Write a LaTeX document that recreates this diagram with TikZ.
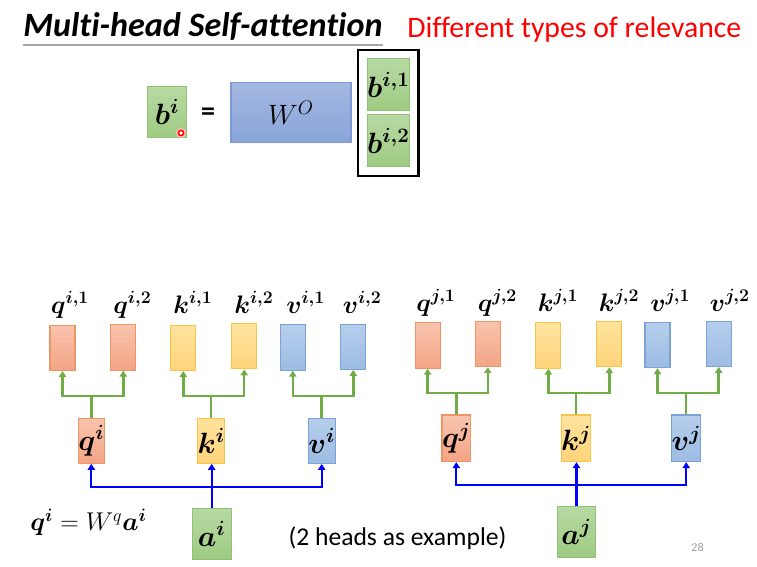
\RequirePackage{fix-cm}
\documentclass[tikz,border=0pt]{standalone}
\usepackage{bm}
\usepackage{fontspec}
\newfontfamily\carl[Ligatures={NoCommon}]{Carlito}
\usetikzlibrary{arrows.meta,fit}
\definecolor{qtop}{HTML}{F8C4AD}
\definecolor{qbot}{HTML}{F4A485}
\definecolor{qbrd}{HTML}{EE9566}
\definecolor{ktop}{HTML}{FFE39E}
\definecolor{kbot}{HTML}{FFD47A}
\definecolor{kbrd}{HTML}{F9C546}
\definecolor{vtop}{HTML}{B6CEEC}
\definecolor{vbot}{HTML}{9CBCE3}
\definecolor{vbrd}{HTML}{7CA3D5}
\definecolor{gtop}{HTML}{B7D9A3}
\definecolor{gbot}{HTML}{9ECB82}
\definecolor{gbrd}{HTML}{8FC276}
\definecolor{wtop}{HTML}{A3B8E2}
\definecolor{wbot}{HTML}{8AA5DA}
\definecolor{wbrd}{HTML}{7E9AD4}
\definecolor{garrow}{HTML}{70AD47}
\definecolor{barrow}{HTML}{0000FF}
\definecolor{pgnum}{HTML}{A0A0A0}
\definecolor{ulgray}{HTML}{A6A6A6}
\definecolor{titred}{HTML}{FF0000}
\tikzset{
  box/.style={draw, line width=0.8pt, inner sep=0pt, minimum width=18.75pt, minimum height=34pt},
  qbox/.style={box, draw=qbrd, top color=qtop, bottom color=qbot},
  kbox/.style={box, draw=kbrd, top color=ktop, bottom color=kbot},
  vbox/.style={box, draw=vbrd, top color=vtop, bottom color=vbot},
  gbox/.style={box, draw=gbrd, top color=gtop, bottom color=gbot},
  abox/.style={gbox, minimum width=29pt, minimum height=38.5pt},
  bbox/.style={gbox, minimum width=30pt, minimum height=38.8pt},
  wbox/.style={box, draw=wbrd, top color=wtop, bottom color=wbot, minimum width=90pt, minimum height=44.7pt},
  framebox/.style={draw=black, line width=1.6pt, inner sep=6.4pt},
  inlab/.style={font=\fontsize{22}{26}\selectfont},
  lab/.style={anchor=base west, inner sep=0pt, font=\fontsize{19}{22}\selectfont},
  garr/.style={draw=garrow, line width=1.9pt, -{Triangle[width=5.5pt,length=4.5pt]}},
  barr/.style={draw=barrow, line width=1.6pt, -{Triangle[width=5.5pt,length=4.5pt]}},
}
\begin{document}
\begin{tikzpicture}[x=0.75pt,y=-0.75pt]
\useasboundingbox (0,0) rectangle (757,567);
% titles
\node[anchor=base west, inner sep=0pt, font=\carl\bfseries\itshape\fontsize{25.6}{30}\selectfont] (title) at (23,37) {Multi-head Self-attention};
\draw[ulgray, line width=1.5pt] (23,45.5) -- (383.3,45.5);
\node[anchor=base west, inner sep=0pt, text=titred, font=\carl\fontsize{22.3}{26}\selectfont] (sub) at (407,37.3) {Different types of relevance};
% top equation
\node[bbox, minimum width=29.5pt, minimum height=38.2pt, inlab] (bi) at (167,112.2) {$\bm{b^{i}}$};
\node[font=\carl\bfseries\fontsize{21}{24}\selectfont] (eq) at (208,114) {=};
\node[wbox, font=\fontsize{21}{24}\selectfont] (wo) at (291,112.5) {$W^{O}$};
\node[bbox, inlab] (b1) at (388.3,84.8) {$\bm{b^{i,1}}$};
\node[bbox, inlab] (b2) at (388.3,140.8) {$\bm{b^{i,2}}$};
\node[framebox, fit=(b1)(b2)] (frame) {};
% pointer
\fill[red!25] (181,133) circle (5);
\draw[red, line width=1.2pt, fill=white] (181,133) circle (2.6);
% left group: top row
\node[qbox] (qi1) at (62.5,347.8) {};
\node[qbox] (qi2) at (123.3,347.5) {};
\node[kbox] (ki1) at (183.3,347.8) {};
\node[kbox] (ki2) at (244.2,346.2) {};
\node[vbox] (vi1) at (292.8,347.5) {};
\node[vbox] (vi2) at (353.3,346.7) {};
\node[lab] (lqi1) at (50.7,313) {$\bm{q^{i,1}}$};
\node[lab] (lqi2) at (113,313) {$\bm{q^{i,2}}$};
\node[lab] (lki1) at (173,313) {$\bm{k^{i,1}}$};
\node[lab] (lki2) at (234,313) {$\bm{k^{i,2}}$};
\node[lab] (lvi1) at (286,313) {$\bm{v^{i,1}}$};
\node[lab] (lvi2) at (342.5,313) {$\bm{v^{i,2}}$};
% left group: middle
\node[qbox, inlab] (qi) at (91.3,440.7) {$\bm{q^{i}}$};
\node[kbox, inlab] (ki) at (211.2,440.7) {$\bm{k^{i}}$};
\node[vbox, inlab] (vi) at (321.7,440.7) {$\bm{v^{i}}$};
\node[abox, inlab] (ai) at (211.7,534.2) {$\bm{a^{i}}$};
% right group: top row
\node[qbox] (qj1) at (427.7,345.5) {};
\node[qbox] (qj2) at (487.8,344) {};
\node[kbox] (kj1) at (548.3,345.5) {};
\node[kbox] (kj2) at (609.3,344) {};
\node[vbox] (vj1) at (657.5,345) {};
\node[vbox] (vj2) at (718.7,343.7) {};
\node[lab] (lqj1) at (416,311) {$\bm{q^{j,1}}$};
\node[lab] (lqj2) at (477.5,311) {$\bm{q^{j,2}}$};
\node[lab] (lkj1) at (537.5,311) {$\bm{k^{j,1}}$};
\node[lab] (lkj2) at (598.5,311) {$\bm{k^{j,2}}$};
\node[lab] (lvj1) at (650,311) {$\bm{v^{j,1}}$};
\node[lab] (lvj2) at (709.5,311) {$\bm{v^{j,2}}$};
% right group: middle
\node[qbox, inlab, minimum height=35pt] (qj) at (456.3,438.3) {$\bm{q^{j}}$};
\node[kbox, inlab, minimum height=35pt] (kj) at (576,438.3) {$\bm{k^{j}}$};
\node[vbox, inlab, minimum height=35pt] (vj) at (686.2,438.3) {$\bm{v^{j}}$};
\node[abox, inlab, minimum width=28.8pt, minimum height=38pt] (aj) at (576.5,532) {$\bm{a^{j}}$};
% green splits
\foreach \s/\a/\b in {qi/qi1/qi2, ki/ki1/ki2, vi/vi1/vi2, qj/qj1/qj2, kj/kj1/kj2, vj/vj1/vj2}{
  \draw[garr] (\s.north) -- ++(0,-21.5) -| (\a.south);
  \draw[garr] (\s.north) -- ++(0,-21.5) -| (\b.south);
}
% blue fan-out
\draw[barr] (ai.north) -- ++(0,-21) -| (qi.south);
\draw[barr] (ai.north) -- (ai.north |- ki.south);
\draw[barr] (ai.north) -- ++(0,-21) -| (vi.south);
\draw[barr] (aj.north) -- ++(0,-21.5) -| (qj.south);
\draw[barr] (aj.north) -- (aj.north |- kj.south);
\draw[barr] (aj.north) -- ++(0,-21.5) -| (vj.south);
% bottom texts
\node[anchor=base west, inner sep=0pt, font=\fontsize{19.3}{22}\selectfont] (formula) at (30,530.5) {$\bm{q^{i}} = W^{q}\bm{a^{i}}$};
\node[anchor=base west, inner sep=0pt, font=\carl\fontsize{19.2}{22}\selectfont] (note) at (288.3,545) {(2 heads as example)};
\node[text=pgnum, font=\carl\fontsize{9}{11}\selectfont] (pg) at (697.5,547) {28};
\end{tikzpicture}
\end{document}
